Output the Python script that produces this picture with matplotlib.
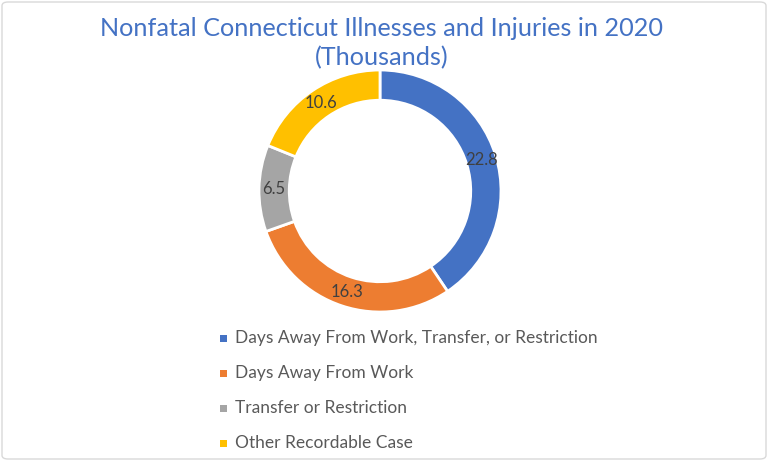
import matplotlib.pyplot as plt
from matplotlib.patches import FancyBboxPatch, Rectangle

# data
categorias = ["Days Away From Work, Transfer, or Restriction",
              "Days Away From Work",
              "Transfer or Restriction",
              "Other Recordable Case"]
valores = [22.8, 16.3, 6.5, 10.6]
cores = ["#4472C4", "#ED7D31", "#A5A5A5", "#FFC000"]
titulo = "Nonfatal Connecticut Illnesses and Injuries in 2020\n(Thousands)"

plt.rcParams['font.family'] = ['Lato', 'DejaVu Sans']

W, H = 768, 461
fig = plt.figure(figsize=(W / 100, H / 100), dpi=100)

# moldura cinza
fig.patches.append(FancyBboxPatch((2 / W, 2 / H), 1 - 4 / W, 1 - 4 / H,
                                  boxstyle="round,pad=0,rounding_size=0.008",
                                  transform=fig.transFigure, fill=False,
                                  edgecolor="#D9D9D9", linewidth=1))

# titulo
fig.text(382 / W, 1 - 43 / H, titulo, ha="center", va="center",
         fontsize=18.2, color="#4472C4", linespacing=1.3)

# donut
cx, cy, r = 380, 191, 121
ax = fig.add_axes([(cx - r) / W, (H - cy - r) / H, 2 * r / W, 2 * r / H])
total = sum(valores)
wedges, _, autotexts = ax.pie(
    valores, colors=cores, startangle=90, counterclock=False,
    radius=1, wedgeprops=dict(width=0.25, edgecolor="white", linewidth=2),
    autopct=lambda p: f"{p * total / 100:.1f}", pctdistance=0.875)
for t in autotexts:
    t.set_fontsize(12)
    t.set_color("#404040")
ax.set_xlim(-1, 1)
ax.set_ylim(-1, 1)
ax.set_aspect("equal")
ax.axis("off")

# legenda
linhas_y = [338, 373, 408, 443]
for nome, cor, y in zip(categorias, cores, linhas_y):
    fig.patches.append(Rectangle(((223 - 3.5) / W, (H - y - 3.5) / H), 7 / W, 7 / H,
                                 transform=fig.transFigure, facecolor=cor,
                                 edgecolor="none"))
    fig.text(235 / W, 1 - y / H, nome, ha="left", va="center",
             fontsize=12.5, color="#595959")

fig.savefig("out.png", dpi=100, facecolor="white")
